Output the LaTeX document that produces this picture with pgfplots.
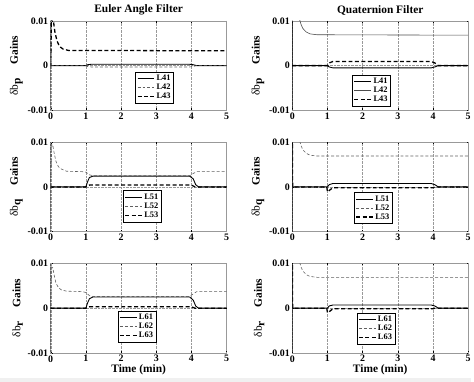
\documentclass[border=0pt]{standalone}
\usepackage{pgfplots}
\pgfplotsset{compat=1.18}
\usepackage{fontspec}
\setmainfont{Liberation Serif}
\pgfplotsset{
  panel/.style={
    scale only axis, width=177bp, height=90bp,
    xmin=0, xmax=5, ymin=-0.01, ymax=0.01,
    scaled y ticks=false,
    xtick={0,1,2,3,4,5}, ytick={-0.01,0,0.01}, yticklabels={-0.01,0,0.01},
    grid=major, grid style={densely dotted, gray!80, line width=0.5pt},
    axis line style={densely dotted, gray!80},
    tick style={black, thin}, major tick length=2bp,
    tick label style={font=\fontsize{10}{10}\selectfont\bfseries},
    /pgf/number format/assume math mode=true,
    yticklabel style={xshift=1bp},
    xticklabel style={yshift=1bp},
    ylabel style={font=\fontsize{11.5}{11.5}\selectfont, yshift=-2bp},
    title style={font=\fontsize{11.5}{12}\selectfont\bfseries, yshift=-4bp},
    xlabel style={font=\fontsize{11.5}{12}\selectfont\bfseries, yshift=4bp},
    legend cell align=left,
    legend style={anchor=north, draw=black, fill=white,
      font=\fontsize{8.5}{8.5}\selectfont\bfseries,
      inner sep=1.5bp, row sep=-1bp, line width=0.5pt,
      nodes={inner sep=1.5bp}},
    legend image post style={xscale=1.0},
  },
  lone/.style={black, line width=0.9pt},
  ltwo/.style={gray!75!black, line width=0.6pt, dash pattern=on 3pt off 2pt},
  ltwos/.style={black!70, line width=0.6pt},
  lthree/.style={black, line width=1.3pt, dash pattern=on 4pt off 2.5pt},
}
\newcommand{\yl}[1]{{\mdseries δb}\raisebox{-0.45ex}{\bfseries #1}\hspace{1.2em}{\bfseries Gains}}
\begin{document}
\begin{tikzpicture}
\path (0,0) rectangle (474bp,-384bp);
\fill[gray!12] (0,-380bp) rectangle (474bp,-384bp);
% ---------- Top left ----------
\begin{axis}[panel, at={(51bp,-21bp)}, anchor=north west,
  title={Euler Angle Filter}, ylabel={\yl{p}},
  legend style={at={(rel axis cs:0.59,0.43)}}]
\addplot[lone] coordinates {(0,0)(1,0)(1.05,0.0002)(1.15,0.0003)(3.95,0.0003)(4.05,0.0002)(4.15,0)(5,0)};
\addplot[ltwo] coordinates {(0,0)(1,0)(1.05,-0.0002)(1.15,-0.0003)(3.95,-0.0003)(4.05,-0.0002)(4.15,0)(5,0)};
\addplot[lthree] coordinates {(0,0)(0.02,0.0105)(0.08,0.0098)(0.12,0.0075)(0.18,0.0055)(0.25,0.0043)(0.35,0.0037)(0.5,0.0034)(5,0.0033)};
\legend{L41,L42,L43}
\draw[black, line width=0.6pt] (rel axis cs:0,0) -- (rel axis cs:0,1);
\end{axis}
% ---------- Top right ----------
\begin{axis}[panel, at={(294bp,-21bp)}, anchor=north west,
  title={Quaternion Filter}, ylabel={\yl{p}},
  legend style={at={(rel axis cs:0.45,0.40)}}]
\addplot[lone] coordinates {(0,0)(1,0)(1.05,-0.0003)(1.15,-0.0005)(3.95,-0.0005)(4.05,-0.0003)(4.15,0)(5,0)};
\addplot[ltwos] coordinates {(0,0)(0.01,0.02)(0.2,0.0105)(0.25,0.0092)(0.3,0.0083)(0.4,0.0075)(0.5,0.0071)(0.7,0.0069)(5,0.0068)};
\addplot[lthree] coordinates {(0,0)(1,0)(1.05,0.0006)(1.15,0.0009)(3.95,0.0009)(4.05,0.0006)(4.15,0)(5,0)};
\legend{L41,L42,L43}
\draw[black, line width=0.6pt] (rel axis cs:0,0) -- (rel axis cs:0,1);
\end{axis}
% ---------- Middle left ----------
\begin{axis}[panel, at={(51bp,-143bp)}, anchor=north west,
  ylabel={\yl{q}},
  legend style={at={(rel axis cs:0.52,0.46)}}]
\addplot[lone] coordinates {(0,0)(1,0)(1.05,0.0012)(1.1,0.0021)(1.2,0.0024)(3.95,0.0024)(4.05,0.0018)(4.12,0.0005)(4.2,0)(5,0)};
\addplot[ltwo] coordinates {(0,0)(0.03,0.0095)(0.06,0.0093)(0.1,0.0075)(0.15,0.0057)(0.22,0.0045)(0.3,0.004)(0.45,0.0035)(0.9,0.0034)(1.0,0.0033)(1.1,0.0027)(1.2,0.0025)(3.95,0.0025)(4.05,0.003)(4.15,0.0034)(5,0.0034)};
\addplot[lthree] coordinates {(0,0)(1,0)(1.1,0.0004)(4,0.0004)(4.1,0)(5,0)};
\legend{L51,L52,L53}
\draw[black, line width=0.6pt] (rel axis cs:0,0) -- (rel axis cs:0,1);
\end{axis}
% ---------- Middle right ----------
\begin{axis}[panel, at={(294bp,-143bp)}, anchor=north west,
  ylabel={\yl{q}},
  legend style={at={(rel axis cs:0.46,0.44)}}]
\addplot[lone] coordinates {(0,0)(1,0)(1.05,0.0005)(1.15,0.00075)(3.95,0.00075)(4.05,0.0005)(4.15,0)(5,0)};
\addplot[ltwo] coordinates {(0,0)(0.01,0.02)(0.2,0.0105)(0.25,0.0092)(0.3,0.0083)(0.4,0.0075)(0.5,0.0071)(0.7,0.0069)(5,0.0069)};
\addplot[lthree] coordinates {(0,0)(0.005,0.012)(0.01,0)(0.98,0)(1.0,-0.0011)(1.05,-0.0008)(1.15,-0.0002)(4,-0.0002)(4.05,0)(5,0)};
\legend{L51,L52,L53}
\draw[black, line width=0.6pt] (rel axis cs:0,0) -- (rel axis cs:0,1);
\end{axis}
% ---------- Bottom left ----------
\begin{axis}[panel, at={(51bp,-265bp)}, anchor=north west,
  ylabel={\yl{r}}, xlabel={Time (min)},
  legend style={at={(rel axis cs:0.49,0.47)}}]
\addplot[lone] coordinates {(0,0)(1,0)(1.05,0.0012)(1.1,0.0021)(1.2,0.0025)(3.95,0.0025)(4.05,0.0018)(4.12,0.0005)(4.2,0)(5,0)};
\addplot[ltwo] coordinates {(0,0)(0.03,0.0092)(0.06,0.009)(0.1,0.0073)(0.15,0.0056)(0.22,0.0046)(0.3,0.0041)(0.45,0.0038)(0.9,0.0037)(1.0,0.0035)(1.1,0.0028)(1.2,0.0026)(3.95,0.0026)(4.05,0.0032)(4.15,0.0037)(5,0.0037)};
\addplot[lthree] coordinates {(0,0)(1,0)(1.1,0.0003)(4,0.0003)(4.1,0)(5,0)};
\legend{L61,L62,L63}
\draw[black, line width=0.6pt] (rel axis cs:0,0) -- (rel axis cs:0,1);
\end{axis}
% ---------- Bottom right ----------
\begin{axis}[panel, at={(294bp,-265bp)}, anchor=north west,
  ylabel={\yl{r}}, xlabel={Time (min)},
  legend style={at={(rel axis cs:0.475,0.45)}}]
\addplot[lone] coordinates {(0,0)(1,0)(1.05,0.0005)(1.15,0.0007)(3.95,0.0007)(4.05,0.0005)(4.15,0)(5,0)};
\addplot[ltwo] coordinates {(0,0)(0.01,0.02)(0.2,0.0105)(0.25,0.0092)(0.3,0.0083)(0.4,0.0075)(0.5,0.0071)(0.7,0.0069)(5,0.0069)};
\addplot[lthree] coordinates {(0,0)(0.005,0.012)(0.01,0)(0.98,0)(1.0,-0.001)(1.05,-0.0008)(1.15,-0.00015)(4,-0.00015)(4.05,0)(5,0)};
\legend{L61,L62,L63}
\draw[black, line width=0.6pt] (rel axis cs:0,0) -- (rel axis cs:0,1);
\end{axis}
\end{tikzpicture}
\end{document}
